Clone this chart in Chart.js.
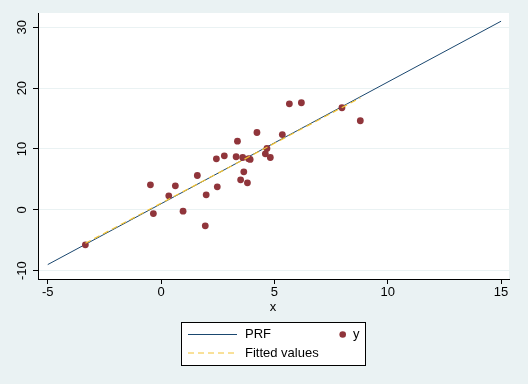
<!DOCTYPE html>
<html>
<head>
<meta charset="utf-8">
<script src="https://cdn.jsdelivr.net/npm/chart.js@4"></script>
<style>
  html, body { margin: 0; padding: 0; background: #eaf2f3; }
  #wrap { width: 528px; height: 384px; }
</style>
</head>
<body>
<div id="wrap"><canvas id="c" width="528" height="384"></canvas></div>
<script>
// Observed points (x, y)
const xVals = [-3.34, -0.47, -0.34, 0.34, 0.63, 0.97, 1.60, 1.95, 1.99, 2.44, 2.48, 2.79, 3.31, 3.37, 3.51, 3.60, 3.65, 3.81, 3.86, 3.93, 4.23, 4.60, 4.67, 4.82, 5.35, 5.66, 6.19, 7.98, 8.79];
const yVals = [-5.76, 4.11, -0.61, 2.30, 3.95, -0.23, 5.64, -2.63, 2.47, 8.39, 3.78, 8.88, 8.72, 11.28, 4.93, 8.60, 6.25, 4.44, 8.40, 8.28, 12.71, 9.21, 10.08, 8.60, 12.36, 17.43, 17.60, 16.78, 14.64];
// PRF line endpoints
const prfX = [-5, 15];
const prfY = [-9, 31];
// Fitted values line endpoints
const fitX = [-3.34, 8.79];
const fitY = [-5.5, 18.4];
// Tick labels
const xTickVals = [-5, 0, 5, 10, 15];
const yTickVals = [-10, 0, 10, 20, 30];
const xTitle = 'x';

const FONT = '"Liberation Sans", Arial, Helvetica, sans-serif';
const zip = (a, b) => a.map((v, i) => ({ x: v, y: b[i] }));

const bgPlugin = {
  id: 'bg',
  beforeDraw(chart) {
    const { ctx, chartArea: a } = chart;
    ctx.save();
    ctx.fillStyle = '#eaf2f3';
    ctx.fillRect(0, 0, chart.width, chart.height);
    ctx.fillStyle = '#ffffff';
    ctx.fillRect(a.left, a.top, a.right - a.left, a.bottom - a.top);
    ctx.restore();
  }
};

const labelPlugin = {
  id: 'labels',
  afterDraw(chart) {
    const { ctx } = chart;
    const ys = chart.scales.y;
    const xs = chart.scales.x;
    ctx.save();
    ctx.fillStyle = '#000';
    ctx.font = '13px ' + FONT;
    ctx.textAlign = 'center';
    ctx.textBaseline = 'middle';
    yTickVals.forEach(v => {
      const py = ys.getPixelForValue(v);
      ctx.save();
      ctx.translate(22, py);
      ctx.rotate(-Math.PI / 2);
      ctx.fillText(String(v), 0, 0);
      ctx.restore();
    });
    ctx.fillText(xTitle, (xs.left + xs.right) / 2 - 0.5, 307);
    ctx.restore();
  }
};

const legendPlugin = {
  id: 'customLegend',
  afterDraw(chart) {
    const { ctx } = chart;
    const ds = chart.data.datasets;
    const bx = 181.5, by = 322.5, bw = 184, bh = 43;
    ctx.save();
    ctx.fillStyle = '#ffffff';
    ctx.fillRect(bx, by, bw, bh);
    ctx.strokeStyle = '#000';
    ctx.lineWidth = 1;
    ctx.strokeRect(bx, by, bw, bh);
    ctx.font = '13px ' + FONT;
    ctx.textBaseline = 'middle';
    ctx.textAlign = 'left';
    const r1 = 334.5, r2 = 353;
    ctx.strokeStyle = ds[0].borderColor;
    ctx.lineWidth = 1;
    ctx.beginPath(); ctx.moveTo(188, r1); ctx.lineTo(237, r1); ctx.stroke();
    ctx.fillStyle = '#000';
    ctx.fillText(ds[0].label, 245, r1);
    ctx.strokeStyle = ds[2].borderColor;
    ctx.setLineDash([6, 4]);
    ctx.beginPath(); ctx.moveTo(188, r2); ctx.lineTo(237, r2); ctx.stroke();
    ctx.setLineDash([]);
    ctx.fillText(ds[2].label, 245, r2);
    ctx.fillStyle = ds[1].backgroundColor;
    ctx.beginPath(); ctx.arc(342.7, r1, 3.3, 0, Math.PI * 2); ctx.fill();
    ctx.fillStyle = '#000';
    ctx.fillText(ds[1].label, 353, r1);
    ctx.restore();
  }
};

new Chart(document.getElementById('c'), {
  type: 'scatter',
  data: {
    datasets: [
      {
        type: 'line',
        label: 'PRF',
        data: zip(prfX, prfY),
        borderColor: '#1a476f',
        borderWidth: 1,
        pointRadius: 0,
        fill: false,
        order: 3
      },
      {
        type: 'scatter',
        label: 'y',
        data: zip(xVals, yVals),
        backgroundColor: '#90353b',
        borderColor: '#90353b',
        borderWidth: 0,
        pointRadius: 3.4,
        order: 2
      },
      {
        type: 'line',
        label: 'Fitted values',
        data: zip(fitX, fitY),
        borderColor: '#f2c232',
        borderWidth: 1.2,
        borderDash: [6, 4],
        pointRadius: 0,
        fill: false,
        order: 1
      }
    ]
  },
  options: {
    responsive: false,
    animation: false,
    devicePixelRatio: 1,
    layout: { padding: { top: 13, right: 19, left: 0, bottom: 0 } },
    plugins: {
      legend: { display: false },
      tooltip: { enabled: false }
    },
    scales: {
      x: {
        type: 'linear',
        min: -5.43,
        max: 15.35,
        afterBuildTicks(s) { s.ticks = xTickVals.map(v => ({ value: v })); },
        afterFit(s) { s.height = 105; },
        border: { display: true, color: '#000', width: 1 },
        grid: { drawOnChartArea: false, drawTicks: true, tickLength: 5, tickColor: '#000' },
        ticks: { color: '#000', font: { family: FONT, size: 13 }, padding: 1, maxRotation: 0 },
        title: { display: false }
      },
      y: {
        type: 'linear',
        min: -11.37,
        max: 32.35,
        afterBuildTicks(s) { s.ticks = yTickVals.map(v => ({ value: v })); },
        afterFit(s) { s.width = 38; },
        border: { display: true, color: '#000', width: 1 },
        grid: { drawOnChartArea: true, color: '#eaf2f3', drawTicks: true, tickLength: 5, tickColor: '#000' },
        ticks: { display: false }
      }
    }
  },
  plugins: [bgPlugin, labelPlugin, legendPlugin]
});
</script>
</body>
</html>
